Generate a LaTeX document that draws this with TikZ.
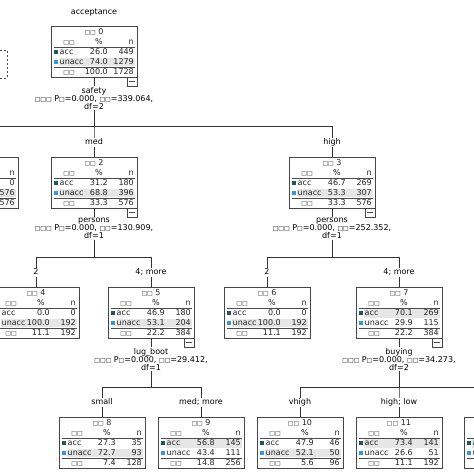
\documentclass[tikz,border=0pt]{standalone}
\usepackage{fontspec}
\setmainfont{DejaVu Sans}
\usetikzlibrary{positioning}

\definecolor{accgreen}{RGB}{28,88,92}
\definecolor{unaccblue}{RGB}{52,152,219}
\definecolor{boxline}{RGB}{70,70,70}
\definecolor{rowgray}{RGB}{230,230,230}

\newcommand{\sq}{{\fontsize{6}{6}\selectfont □}}

\tikzset{
  carbox/.style={draw=boxline, line width=0.8pt, fill=white, minimum width=86pt,
    minimum height=51pt, inner sep=0pt, outer sep=0pt},
  cell/.style={font=\fontsize{8}{9}\selectfont, text=black!85, inner sep=0pt,
    text height=5.8pt, text depth=0pt},
  rule/.style={draw=black!70, line width=0.6pt},
  link/.style={draw=black!80, line width=0.9pt},
  branch/.style={font=\fontsize{8}{9}\selectfont, fill=white, inner sep=1pt,
    text height=6pt, text depth=1.5pt},
  split/.style={font=\fontsize{8}{8}\selectfont, fill=white, inner sep=1pt, align=center},
  minusbox/.style={draw=boxline, line width=0.7pt, fill=white, minimum width=10pt,
    minimum height=9pt, inner sep=0pt, outer sep=0pt},
}

% one table of the tree: name, top centre, number, acc %, acc n, unacc %, unacc n, total %, total n
\newcommand{\carnode}[9]{%
  \node[carbox, anchor=north] (#1) at (#2) {};
  \begin{scope}[shift={(#1.north west)}]
    % the larger class gets the grey band
    \ifdim #4pt>#6pt
      \fill[rowgray] (8,21.8) rectangle (84,30.6);
    \else
      \fill[rowgray] (8,31.6) rectangle (84,40.4);
    \fi
    \node[cell] (#1-id) at (43,6) {\sq\sq\ #3};
    \node[cell] (#1-hc) at (18,16) {\sq\sq};
    \node[cell] (#1-hp) at (48,16) {\%};
    \node[cell, anchor=east] (#1-hn) at (83,16) {n};
    \draw[rule] (3,21) -- (84,21);
    \fill[accgreen] (3,24) rectangle (7,28);
    \node[cell, anchor=west] (#1-a) at (8.5,26) {acc};
    \node[cell, anchor=east] (#1-ap) at (57,26) {#4};
    \node[cell, anchor=east] (#1-an) at (83,26) {#5};
    \fill[unaccblue] (3,34) rectangle (7,38);
    \node[cell, anchor=west] (#1-u) at (8.5,36) {unacc};
    \node[cell, anchor=east] (#1-up) at (57,36) {#6};
    \node[cell, anchor=east] (#1-un) at (83,36) {#7};
    \draw[rule] (3,41) -- (84,41);
    \node[cell] (#1-tc) at (18,46) {\sq\sq};
    \node[cell, anchor=east] (#1-tp) at (57,46) {#8};
    \node[cell, anchor=east] (#1-tn) at (83,46) {#9};
  \end{scope}}

\begin{document}
\begin{tikzpicture}[x=1pt, y=-1pt]
    \useasboundingbox (0,0) rectangle (474,474);
    \clip (0,0) rectangle (474,474);
    % legend box, mostly cut off
    \draw[boxline, line width=0.6pt, dash pattern=on 2pt off 2pt] (-40,50) rectangle (7,78);
    % tables
    \node[branch, fill=none] (dep) at (94,12) {acceptance};
    \carnode{n0}{94,26}{0}{26.0}{449}{74.0}{1279}{100.0}{1728}
    \carnode{n1}{-25,157}{1}{0.0}{0}{100.0}{576}{33.3}{576}
    \carnode{n2}{94,157}{2}{31.2}{180}{68.8}{396}{33.3}{576}
    \carnode{n3}{332,157}{3}{46.7}{269}{53.3}{307}{33.3}{576}
    \carnode{n4}{36,287}{4}{0.0}{0}{100.0}{192}{11.1}{192}
    \carnode{n5}{151,287}{5}{46.9}{180}{53.1}{204}{22.2}{384}
    \carnode{n6}{267,287}{6}{0.0}{0}{100.0}{192}{11.1}{192}
    \carnode{n7}{399,287}{7}{70.1}{269}{29.9}{115}{22.2}{384}
    \carnode{n8}{102,417}{8}{27.3}{35}{72.7}{93}{7.4}{128}
    \carnode{n9}{201,417}{9}{56.8}{145}{43.4}{111}{14.8}{256}
    \carnode{n10}{300,417}{10}{47.9}{46}{52.1}{50}{5.6}{96}
    \carnode{n11}{399,417}{11}{73.4}{141}{26.6}{51}{11.1}{192}
    \carnode{n12}{507,417}{12}{85.4}{82}{14.6}{14}{5.6}{96}
    % connectors
    \foreach \p/\c in {n0/n1,n0/n2,n0/n3,n2/n4,n2/n5,n3/n6,n3/n7,n5/n8,n5/n9,n7/n10,n7/n11,n7/n12}
        \draw[link] (\p.south) -- ++(0,49) -| (\c.north);
    % branch values
    \foreach \c/\t in {n2/med,n3/high,n4/2,n5/{4; more},n6/2,n7/{4; more},n8/small,n9/{med; more},n10/vhigh,n11/{high; low}}
        \node[branch, above=9.5pt of \c] (b\c) {\t};
    % split tests
    \node[split, below=9pt of n0] (s0) {safety\\\sq\sq\sq\ P\sq=0.000, \sq\sq=339.064,\\df=2};
    \node[split, below=9pt of n2] (s2) {persons\\\sq\sq\sq\ P\sq=0.000, \sq\sq=130.909,\\df=1};
    \node[split, below=9pt of n3] (s3) {persons\\\sq\sq\sq\ P\sq=0.000, \sq\sq=252.352,\\df=1};
    \node[split, below=9pt of n5] (s5) {lug\_boot\\\sq\sq\sq\ P\sq=0.000, \sq\sq=29.412,\\df=1};
    \node[split, below=9pt of n7] (s7) {buying\\\sq\sq\sq\ P\sq=0.000, \sq\sq=34.273,\\df=2};
    % collapse buttons
    \foreach \nd in {n0,n2,n3,n5,n7} {
        \node[minusbox, anchor=north east] (\nd-m) at (\nd.south east) {};
        \draw[rule] ([xshift=2pt]\nd-m.west) -- ([xshift=-2pt]\nd-m.east);
    }
\end{tikzpicture}
\end{document}
